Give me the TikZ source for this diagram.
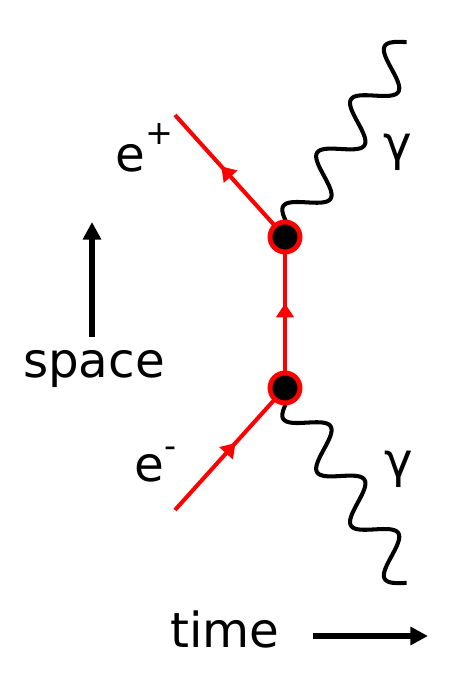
\documentclass[tikz,border=0pt]{standalone}
\usepackage{fontspec}
\setmainfont{DejaVu Sans}
\usetikzlibrary{arrows.meta, decorations.markings}

\begin{document}
\begin{tikzpicture}[x=0.02cm, y=0.02cm, font=\fontsize{27.5}{32}\selectfont]
\tikzstyle{vertex} = [circle, draw=red, fill=black, line width=2.8pt, inner sep=0pt, minimum size=0.6cm]
\tikzstyle{photon} = [draw=black, line width=2.3pt]
\tikzstyle{axis} = [draw=black, line width=3.4pt, -{Triangle[width=10pt, length=10pt]}]
\tikzstyle{label} = [inner sep=0pt, anchor=base]
\tikzset{fermion/.style={draw=red, line width=2.3pt, postaction={decorate},
  decoration={markings, mark=at position #1 with {\arrow{Triangle[width=10pt, length=8pt]}}}}}

\useasboundingbox (0,0) rectangle (474,684);

\coordinate (v1) at (285,447);
\coordinate (v2) at (285,296);
\coordinate (ep) at (175,569);
\coordinate (em) at (175,174);
\coordinate (s0) at (92,347);
\coordinate (s1) at (92,462);
\coordinate (t0) at (313,48);
\coordinate (t1) at (428,48);

% photons
\draw[photon, shift={(v1)}] plot[domain=0:229.7, samples=200]
  ({0.5355*\x + 15.2*sin(5.696*(\x-41))}, {0.8446*\x - 9.64*sin(5.696*(\x-41))});
\draw[photon, shift={(v2)}] plot[domain=0:229.7, samples=200]
  ({0.5355*\x + 15.2*sin(5.696*(\x-41))}, {-0.8446*\x + 9.64*sin(5.696*(\x-41))});

% fermions
\draw[fermion=0.58] (v1) -- (ep);
\draw[fermion=0.56] (v2) -- (v1);
\draw[fermion=0.55] (em) -- (v2);

\node[vertex] (d1) at (v1) {};
\node[vertex] (d2) at (v2) {};

\node[label, anchor=base west] (lep) at (115.5,512) {e\raisebox{0.56em}{\fontsize{19}{19}\selectfont +}};
\node[label, anchor=base west] (lem) at (134.5,202) {e\raisebox{0.5em}{\fontsize{19}{19}\selectfont -}};
\node[label] (g1) at (397.5,523) {γ};
\node[label] (g2) at (399,206) {γ};

\draw[axis] (s0) -- (s1);
\node[label] (space) at (94,306) {space};
\draw[axis] (t0) -- (t1);
\node[label] (time) at (225,36) {time};
\end{tikzpicture}
\end{document}
